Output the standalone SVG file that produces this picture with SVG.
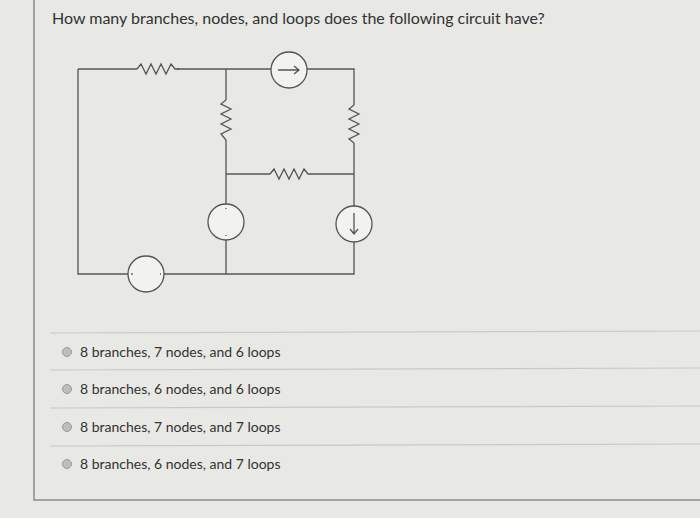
<svg xmlns="http://www.w3.org/2000/svg" width="700" height="518" viewBox="0 0 700 518">
<style>
.w{fill:none;stroke:#555;stroke-width:1.3}
.t{font-family:Lato,"Liberation Sans",sans-serif;fill:#333}
.sep{stroke:#c9c9c4;stroke-width:1.2}
.rb{fill:#bdbdbd;stroke:#9a9a9a;stroke-width:1}
</style>
<rect width="700" height="518" fill="#e8e8e5"/>
<path d="M34,0V500H700" fill="none" stroke="#8a8a88" stroke-width="1.5"/>
<text class="t" x="52" y="24" font-size="16">How many branches, nodes, and loops does the following circuit have?</text>
<g id="wires" class="w">
<path d="M78,69H137M177,69H271M307,69H354V105M354,143V206M354,242V274H164M128,274H78V69"/>
<path d="M226,69V100M226,140V204M226,240V274M226,174H270M310,174H354"/>
</g>
<g id="R1" class="w"><path d="M137,69l4,-5l5,10l5,-10l5,10l5,-10l5,10l5,-10l4,5h4"/></g>
<g id="R2" class="w"><path d="M226,100l-5,4l10,5l-10,5l10,5l-10,5l10,5l-10,5l5,6"/></g>
<g id="R3" class="w"><path d="M354,105l-5,4l10,5l-10,5l10,5l-10,5l10,5l-10,5l5,4"/></g>
<g id="R4" class="w"><path d="M270,174l4,-5l5,10l5,-10l5,10l5,-10l5,10l5,-10l4,5h2"/></g>
<g id="S1" class="w"><circle cx="289" cy="70" r="18" fill="#f2f2f0"/><path d="M278,70H299M294,66l5,4l-5,4"/></g>
<g id="S2" class="w"><circle cx="226" cy="222" r="18" fill="#f2f2f0"/><path d="M226,208v1M226,235v1"/></g>
<g id="S3" class="w"><circle cx="354" cy="224" r="18" fill="#f2f2f0"/><path d="M354,213V234M350,229l4,5l4,-5"/></g>
<g id="S4" class="w"><circle cx="146" cy="274" r="18" fill="#f2f2f0"/><path d="M132,273v2M160,274h1"/></g>
<g id="options">
<line class="sep" x1="50" y1="333" x2="700" y2="331"/>
<line class="sep" x1="50" y1="370" x2="700" y2="368"/>
<line class="sep" x1="50" y1="408" x2="700" y2="406"/>
<line class="sep" x1="50" y1="446" x2="700" y2="444"/>
<circle class="rb" cx="67" cy="352" r="4.5"/><text class="t" x="80" y="357" font-size="14">8 branches, 7 nodes, and 6 loops</text>
<circle class="rb" cx="67" cy="389" r="4.5"/><text class="t" x="80" y="394" font-size="14">8 branches, 6 nodes, and 6 loops</text>
<circle class="rb" cx="67" cy="427" r="4.5"/><text class="t" x="80" y="432" font-size="14">8 branches, 7 nodes, and 7 loops</text>
<circle class="rb" cx="67" cy="464" r="4.5"/><text class="t" x="80" y="469" font-size="14">8 branches, 6 nodes, and 7 loops</text>
</g>
</svg>
